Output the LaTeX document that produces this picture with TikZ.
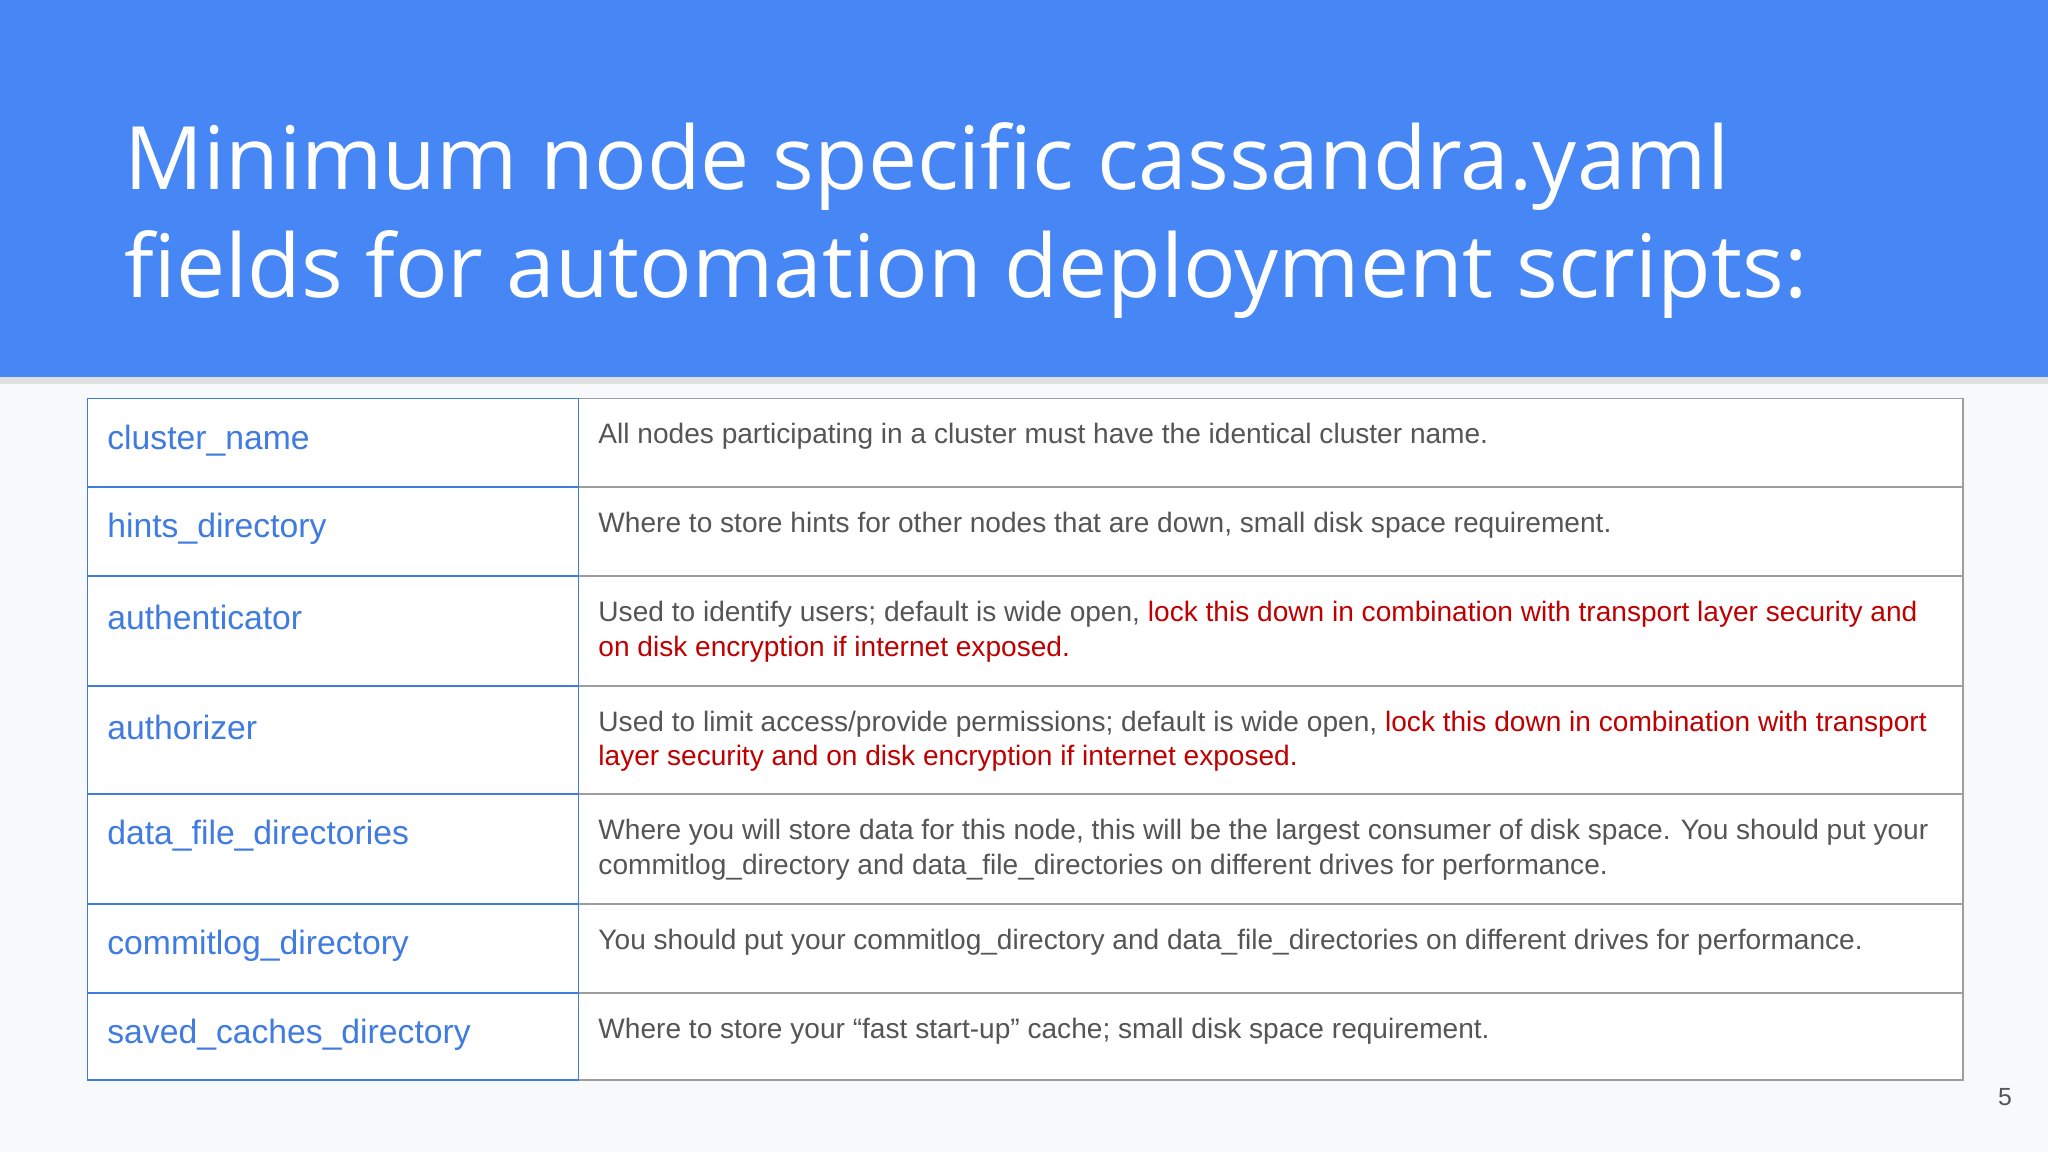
\documentclass[tikz,border=0pt]{standalone}
\usepackage{fontspec}
\setmainfont{Liberation Sans}
\newfontfamily\titlefont{Open Sans}
\definecolor{gblue}{HTML}{4686F5}
\definecolor{lblue}{HTML}{3F7BE0}
\definecolor{tgray}{HTML}{555555}
\definecolor{lgray}{HTML}{9E9E9E}
\definecolor{tred}{HTML}{C00000}
\definecolor{bg}{HTML}{F8F9FA}
\begin{document}
\begin{tikzpicture}[x=1pt,y=-1pt,
  keyt/.style={anchor=west,font=\fontsize{25.8}{28}\selectfont,text=lblue,inner sep=0},
  valt/.style={anchor=north west,align=left,font=\fontsize{21.5}{26.5}\selectfont,text=tgray,inner sep=0}]
\useasboundingbox (0,0) rectangle (1568,882);
\fill[bg] (0,0) rectangle (1568,882);
\fill[black!12] (0,288) rectangle (1568,294);
\fill[gblue] (0,0) rectangle (1568,289);
\node[anchor=base west,align=left,text=white,inner sep=0,font=\titlefont\fontsize{67}{83}\selectfont] (title) at (95,228) {Minimum node specific cassandra.yaml\\fields for automation deployment scripts:};
% table
\fill[white] (67,305) rectangle (1503,827);
\foreach \y in {373,441,525,608,692,760}{\draw[lgray,line width=1.3] (443,\y) -- (1503,\y);}
\draw[lgray,line width=1.3] (443,305) -- (1503,305) -- (1503,827) -- (443,827);
\foreach \y in {373,441,525,608,692,760}{\draw[lblue,line width=1.3] (67,\y) -- (443,\y);}
\draw[lblue,line width=1.3] (67,305) rectangle (443,827);
\node[keyt] (k1) at (82,337) {cluster\_name};
\node[keyt] (k2) at (82,405) {hints\_directory};
\node[keyt] (k3) at (82,473) {authenticator};
\node[keyt] (k4) at (82,557) {authorizer};
\node[keyt] (k5) at (82,640) {data\_file\_directories};
\node[keyt] (k6) at (82,724) {commitlog\_directory};
\node[keyt] (k7) at (82,792) {saved\_caches\_directory};
\node[valt] (v1) at (458,324) {All nodes participating in a cluster must have the identical cluster name.};
\node[valt] (v2) at (458,392) {Where to store hints for other nodes that are down, small disk space requirement.};
\node[valt] (v3) at (458,460) {Used to identify users; default is wide open, \textcolor{tred}{lock this down in combination with transport layer security and}\\\textcolor{tred}{on disk encryption if internet exposed.}};
\node[valt] (v4) at (458,544) {Used to limit access/provide permissions; default is wide open, \textcolor{tred}{lock this down in combination with transport}\\\textcolor{tred}{layer security and on disk encryption if internet exposed.}};
\node[valt] (v5) at (458,627) {Where you will store data for this node, this will be the largest consumer of disk space. You should put your\\commitlog\_directory and data\_file\_directories on different drives for performance.};
\node[valt] (v6) at (458,711) {You should put your commitlog\_directory and data\_file\_directories on different drives for performance.};
\node[valt] (v7) at (458,779) {Where to store your “fast start-up” cache; small disk space requirement.};
\node[text=tgray,font=\fontsize{19}{22}\selectfont] (pn) at (1535,840) {5};
\end{tikzpicture}
\end{document}
